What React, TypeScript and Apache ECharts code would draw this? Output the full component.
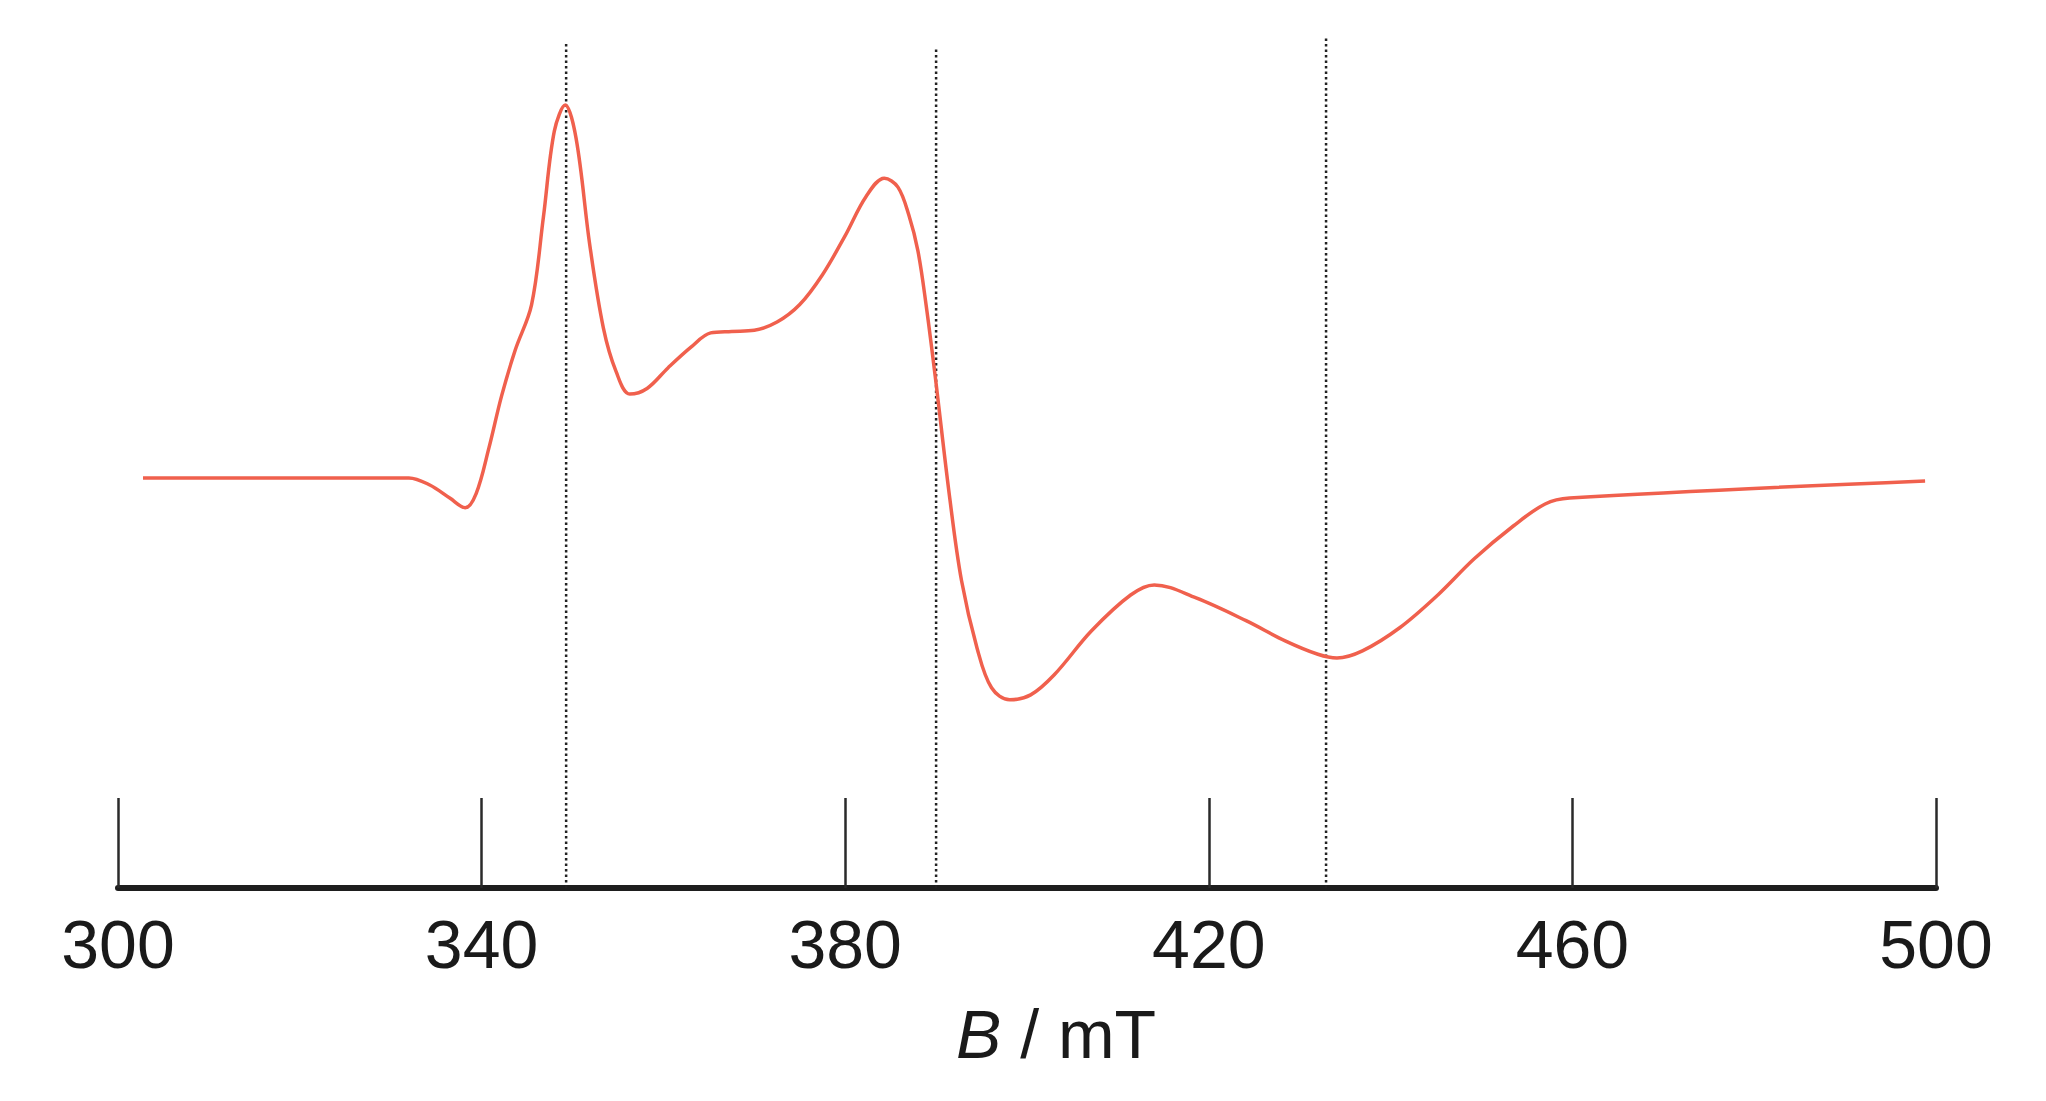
import React, { useEffect, useRef } from 'react';
import * as echarts from 'echarts';

// field B / mT
const fieldValues = [
  302.75, 332.0, 334.3, 336.5, 338.2, 339.4, 340.8, 342.2, 343.7, 345.5,
  346.8, 348.0, 349.2, 350.4, 351.9, 353.4, 354.8, 356.3, 358.2, 360.5,
  363.0, 365.2, 367.5, 370.0, 372.5, 375.0, 377.5, 380.0, 382.3, 384.3,
  385.8, 387.0, 388.0, 388.9, 389.9, 391.5, 392.8, 394.5, 396.1, 398.1,
  400.4, 403.0, 407.1, 411.4, 414.0, 418.6, 424.1, 428.4, 432.0, 434.1,
  436.9, 441.0, 445.2, 449.2, 453.5, 457.0, 459.7, 498.8,
];

// derivative signal (arbitrary units, first peak = 100)
const signalValues = [
  0, 0, -1.9, -5.4, -8.0, -4.2, 8.0, 22.0, 34.3, 46.5,
  70.0, 93.0, 100, 91.0, 62.5, 40.2, 28.5, 22.5, 24.0, 29.5,
  35.0, 38.9, 39.3, 39.6, 41.8, 46.5, 54.5, 65.0, 75.5, 80.4,
  78.0, 70.5, 60.9, 46.4, 27.3, -5.4, -27.6, -45.6, -56.3, -59.5,
  -58.2, -52.8, -41.0, -31.4, -28.7, -32.2, -38.3, -43.7, -47.3, -48.3,
  -46.4, -40.2, -31.4, -21.7, -12.9, -7.0, -5.4, -0.8,
];

// dotted marker lines (field, top of line)
const markerFields = [349.3, 390.0, 432.9];
const markerTops = [117, 115, 118];

const tickValues = [300, 340, 380, 420, 460, 500];

const Y_MIN = -110;
const Y_MAX = 118;

const App: React.FC = () => {
  const chartRef = useRef<HTMLDivElement>(null);

  useEffect(() => {
    if (!chartRef.current) return;
    const chart = echarts.init(chartRef.current, null, { renderer: 'svg' });

    const curve = fieldValues.map((b, i) => [b, signalValues[i]]);

    const markerSeries = markerFields.map((b, i) => ({
      type: 'line',
      data: [
        [b, Y_MIN],
        [b, markerTops[i]],
      ],
      symbol: 'none',
      silent: true,
      z: 1,
      lineStyle: { color: '#222222', width: 2.5, type: [2.5, 3] },
    }));

    chart.setOption({
      animation: false,
      backgroundColor: '#ffffff',
      grid: { left: 118, right: 110, top: 38, bottom: 213 },
      xAxis: {
        type: 'value',
        min: 300,
        max: 500,
        name: '{i|B} / mT',
        nameLocation: 'middle',
        nameGap: 112,
        nameTextStyle: {
          fontFamily: 'Liberation Sans, Arial, sans-serif',
          fontSize: 68,
          color: '#1a1a1a',
          padding: [0, 0, 0, 58],
          rich: {
            i: {
              fontFamily: 'Liberation Sans, Arial, sans-serif',
              fontSize: 68,
              fontStyle: 'italic',
              color: '#1a1a1a',
            },
          },
        },
        axisLine: { show: true, onZero: false, lineStyle: { color: '#1e1e1e', width: 6 } },
        axisTick: {
          show: true,
          inside: true,
          length: 90,
          customValues: tickValues,
          lineStyle: { color: '#2a2a2a', width: 2.5 },
        },
        axisLabel: {
          customValues: tickValues,
          margin: 22,
          fontFamily: 'Liberation Sans, Arial, sans-serif',
          fontSize: 68,
          color: '#1a1a1a',
        },
        splitLine: { show: false },
      },
      yAxis: {
        type: 'value',
        min: Y_MIN,
        max: Y_MAX,
        show: false,
        splitLine: { show: false },
      },
      series: [
        ...markerSeries,
        {
          type: 'line',
          data: curve,
          symbol: 'none',
          smooth: 0.35,
          z: 3,
          lineStyle: { color: '#f0604d', width: 3.5 },
        },
      ],
    });

    return () => {
      chart.dispose();
    };
  }, []);

  return (
    <div
      ref={chartRef}
      style={{ position: 'fixed', left: 0, top: 0, width: '100vw', height: '100vh', background: '#fff' }}
    />
  );
};

export default App;
